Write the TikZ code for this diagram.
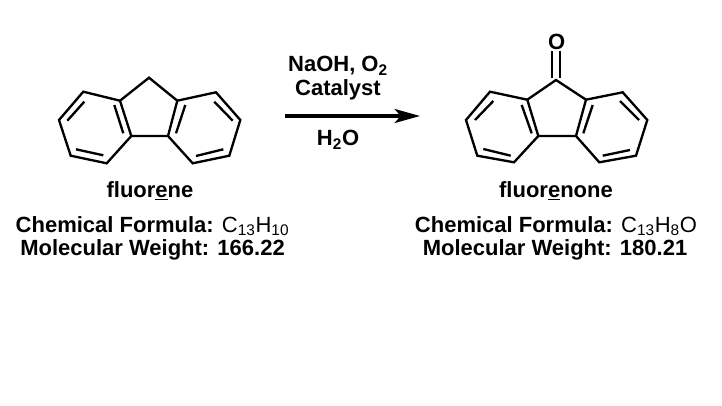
\documentclass[tikz,border=0pt]{standalone}
\usepackage{fontspec}
\setmainfont{Liberation Sans}
\usepackage{tikz}
\usetikzlibrary{arrows.meta}
\tikzset{
  bond/.style={line width=1.75pt,line join=miter},
  rxnarrow/.style={line width=2.3pt,-{Stealth[length=19pt,width=10.5pt,inset=4.5pt]}},
  chemlabel/.style={inner sep=0.75pt,font=\fontsize{16.5}{18}\selectfont\bfseries},
}
\begin{document}
\begin{tikzpicture}[x=0.75pt,y=0.75pt,yscale=-1,xscale=1]
\useasboundingbox (0,0) rectangle (722,406);
% fluorene
\draw [bond] (120,100.7) -- (149,77.7) -- (177.3,100.7) -- (168,136) -- (131.3,136) -- cycle ;
\draw [bond] (120,100.7) -- (83.3,91.7) -- (59,120) -- (70.7,155.7) -- (106.7,163.3) -- (131.3,136) ;
\draw [bond] (177.3,100.7) -- (216,92.3) -- (240.3,120) -- (229.3,155.7) -- (192.7,163.3) -- (168,136) ;
\draw [bond] (84.3,101.7) -- (67.3,120.7) (76,149.3) -- (103.3,155.3) (114.3,105) -- (123.3,133.3) ;
\draw [bond] (214.3,101.7) -- (232.7,120.7) (196,156) -- (223.3,149.3) (185.3,105) -- (176,133.3) ;
% fluorenone
\draw [bond] (527.3,99.7) -- (556,80) -- (586,99.7) -- (576,136) -- (538.3,136) -- cycle ;
\draw [bond] (527.3,99.7) -- (490,91.7) -- (466,120) -- (477.3,155.7) -- (514,162.3) -- (538.3,136) ;
\draw [bond] (586,99.7) -- (622.7,92.3) -- (647.3,120) -- (636,155.7) -- (599.3,162.3) -- (576,136) ;
\draw [bond] (493.3,101) -- (475,120) (483.3,149) -- (510.7,155.7) (521.7,105) -- (531.7,133.3) ;
\draw [bond] (620,101) -- (639,120) (602.7,155.7) -- (630,150) (592.7,105) -- (583.3,133.3) ;
\node (oxygen) at (556.7,42.3) [chemlabel] {O};
\coordinate (carbonylL) at (551.7,78);
\coordinate (carbonylR) at (560.3,78);
\draw [bond] (oxygen.south -| carbonylL) -- (carbonylL) ;
\draw [bond] (oxygen.south -| carbonylR) -- (carbonylR) ;
% reaction arrow
\coordinate (arrowstart) at (285,116);
\coordinate (arrowend) at (420,116);
\draw [rxnarrow] (arrowstart) -- (arrowend) ;
\node (reagents) at (338,66) [chemlabel] {NaOH, O\textsubscript{2}};
\node (catalyst) at (338,90) [chemlabel] {Catalyst};
\node (solvent) at (338,140) [chemlabel] {H\textsubscript{2}O};
% labels
\node (nameA) at (150,191) [chemlabel] {fluor\underline{e}ne};
\node (formulaA) at (152.5,226) [chemlabel] {Chemical Formula: \mdseries C\textsubscript{13}H\textsubscript{10}};
\node (weightA) at (152.5,250) [chemlabel] {Molecular Weight: 166.22};
\node (nameB) at (556,191) [chemlabel] {fluor\underline{e}none};
\node (formulaB) at (556,226) [chemlabel] {Chemical Formula: \mdseries C\textsubscript{13}H\textsubscript{8}O};
\node (weightB) at (555,250) [chemlabel] {Molecular Weight: 180.21};
\end{tikzpicture}
\end{document}
